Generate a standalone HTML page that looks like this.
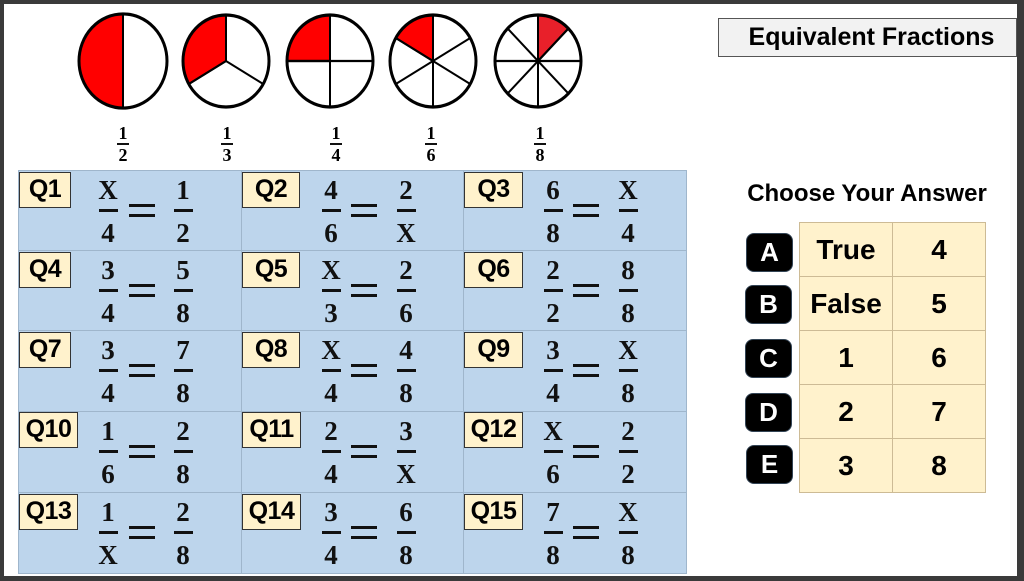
<!DOCTYPE html>
<html><head><meta charset="utf-8"><style>
body{margin:0;width:1024px;height:581px;overflow:hidden;background:#fff;position:relative;font-family:"Liberation Sans",sans-serif}
.a{position:absolute}
.frame{left:0;top:0;width:1024px;height:581px;box-sizing:border-box;border-style:solid;border-color:#3a3a3a;border-width:4px 7px 5px 4px}
.grid{left:18px;top:170px;width:669px;height:404px;background:#bdd5ec;border:1px solid #9fb6cc;box-sizing:border-box}
.hl{height:1px;background:#9fb6cc;left:18px;width:669px}
.vl{width:1px;background:#9fb6cc;top:170px;height:404px}
.q{background:#fff2cc;border:1.5px solid #333;box-sizing:border-box;height:36px;font-weight:bold;font-size:25px;line-height:33px;text-align:center;color:#000;letter-spacing:-0.5px}
.f{font-family:"Liberation Serif",serif;font-weight:bold;font-size:27px;width:30px;text-align:center;line-height:28px;color:#111}
.bar{height:3px;width:19px;background:#111}
.eq{width:26px;height:13px;border-top:3.5px solid #111;border-bottom:3.5px solid #111;box-sizing:border-box}
.sf{font-family:"Liberation Serif",serif;font-weight:bold;font-size:18px;width:20px;text-align:center;line-height:18px}
.sb{height:2px;width:12px;background:#111}
.lt{background:#000;color:#fff;font-weight:bold;font-size:26px;width:45px;height:37px;border-radius:8px;text-align:center;line-height:37px;border:1px solid #345}
td{border:1px solid #cdbb95;width:92px;height:53px;text-align:center;font-weight:bold;font-size:28px;padding:0}
</style></head><body>
<div class="a frame"></div>

<svg class="a" style="left:0;top:0" width="700" height="170">
<g stroke="#000" stroke-width="2">
<g transform="translate(123,61) scale(1,1.07)">
<path d="M0,-44 A44,44 0 0 0 0,44 Z" fill="#ff0000"/>
<line x1="0" y1="-44" x2="0" y2="44"/>
<circle r="44" fill="none" stroke-width="3"/></g>
<g transform="translate(226,61) scale(1,1.07)">
<path d="M0,0 L0,-43 A43,43 0 0 0 -37.2,21.5 Z" fill="#ff0000"/>
<line x1="0" y1="0" x2="0" y2="-43"/><line x1="0" y1="0" x2="37.2" y2="21.5"/><line x1="0" y1="0" x2="-37.2" y2="21.5"/>
<circle r="43" fill="none" stroke-width="3"/></g>
<g transform="translate(330,61) scale(1,1.07)">
<path d="M0,0 L0,-43 A43,43 0 0 0 -43,0 Z" fill="#ff0000"/>
<line x1="0" y1="-43" x2="0" y2="43"/><line x1="-43" y1="0" x2="43" y2="0"/>
<circle r="43" fill="none" stroke-width="3"/></g>
<g transform="translate(433,61) scale(1,1.07)">
<path d="M0,0 L0,-43 A43,43 0 0 0 -37.2,-21.5 Z" fill="#ff0000"/>
<line x1="0" y1="-43" x2="0" y2="43"/><line x1="-37.2" y1="-21.5" x2="37.2" y2="21.5"/><line x1="-37.2" y1="21.5" x2="37.2" y2="-21.5"/>
<circle r="43" fill="none" stroke-width="3"/></g>
<g transform="translate(538,61) scale(1,1.07)">
<path d="M0,0 L0,-43 A43,43 0 0 1 30.4,-30.4 Z" fill="#e8202a"/>
<line x1="0" y1="-43" x2="0" y2="43"/><line x1="-43" y1="0" x2="43" y2="0"/>
<line x1="-30.4" y1="-30.4" x2="30.4" y2="30.4"/><line x1="-30.4" y1="30.4" x2="30.4" y2="-30.4"/>
<circle r="43" fill="none" stroke-width="3"/></g>
</g></svg>

<div class="a sf" style="left:113px;top:124px">1</div><div class="a sb" style="left:117px;top:143px"></div><div class="a sf" style="left:113px;top:146px">2</div>
<div class="a sf" style="left:217px;top:124px">1</div><div class="a sb" style="left:221px;top:143px"></div><div class="a sf" style="left:217px;top:146px">3</div>
<div class="a sf" style="left:326px;top:124px">1</div><div class="a sb" style="left:330px;top:143px"></div><div class="a sf" style="left:326px;top:146px">4</div>
<div class="a sf" style="left:421px;top:124px">1</div><div class="a sb" style="left:425px;top:143px"></div><div class="a sf" style="left:421px;top:146px">6</div>
<div class="a sf" style="left:530px;top:124px">1</div><div class="a sb" style="left:534px;top:143px"></div><div class="a sf" style="left:530px;top:146px">8</div>

<div class="a grid"></div>
<div class="a hl" style="top:250px"></div><div class="a hl" style="top:330px"></div><div class="a hl" style="top:411px"></div><div class="a hl" style="top:492px"></div>
<div class="a vl" style="left:241px"></div><div class="a vl" style="left:463px"></div>

<div class="a q" style="left:19px;top:172px;width:52px">Q1</div>
<div class="a f" style="left:93px;top:176px">X</div><div class="a bar" style="left:99px;top:209px"></div><div class="a f" style="left:93px;top:219px">4</div>
<div class="a eq" style="left:129px;top:204px"></div>
<div class="a f" style="left:168px;top:176px">1</div><div class="a bar" style="left:174px;top:209px"></div><div class="a f" style="left:168px;top:219px">2</div>

<div class="a q" style="left:242px;top:172px;width:58px">Q2</div>
<div class="a f" style="left:316px;top:176px">4</div><div class="a bar" style="left:322px;top:209px"></div><div class="a f" style="left:316px;top:219px">6</div>
<div class="a eq" style="left:351px;top:204px"></div>
<div class="a f" style="left:391px;top:176px">2</div><div class="a bar" style="left:397px;top:209px"></div><div class="a f" style="left:391px;top:219px">X</div>

<div class="a q" style="left:464px;top:172px;width:59px">Q3</div>
<div class="a f" style="left:538px;top:176px">6</div><div class="a bar" style="left:544px;top:209px"></div><div class="a f" style="left:538px;top:219px">8</div>
<div class="a eq" style="left:573px;top:204px"></div>
<div class="a f" style="left:613px;top:176px">X</div><div class="a bar" style="left:619px;top:209px"></div><div class="a f" style="left:613px;top:219px">4</div>

<div class="a q" style="left:19px;top:252px;width:52px">Q4</div>
<div class="a f" style="left:93px;top:256px">3</div><div class="a bar" style="left:99px;top:289px"></div><div class="a f" style="left:93px;top:299px">4</div>
<div class="a eq" style="left:129px;top:284px"></div>
<div class="a f" style="left:168px;top:256px">5</div><div class="a bar" style="left:174px;top:289px"></div><div class="a f" style="left:168px;top:299px">8</div>

<div class="a q" style="left:242px;top:252px;width:58px">Q5</div>
<div class="a f" style="left:316px;top:256px">X</div><div class="a bar" style="left:322px;top:289px"></div><div class="a f" style="left:316px;top:299px">3</div>
<div class="a eq" style="left:351px;top:284px"></div>
<div class="a f" style="left:391px;top:256px">2</div><div class="a bar" style="left:397px;top:289px"></div><div class="a f" style="left:391px;top:299px">6</div>

<div class="a q" style="left:464px;top:252px;width:59px">Q6</div>
<div class="a f" style="left:538px;top:256px">2</div><div class="a bar" style="left:544px;top:289px"></div><div class="a f" style="left:538px;top:299px">2</div>
<div class="a eq" style="left:573px;top:284px"></div>
<div class="a f" style="left:613px;top:256px">8</div><div class="a bar" style="left:619px;top:289px"></div><div class="a f" style="left:613px;top:299px">8</div>

<div class="a q" style="left:19px;top:332px;width:52px">Q7</div>
<div class="a f" style="left:93px;top:336px">3</div><div class="a bar" style="left:99px;top:369px"></div><div class="a f" style="left:93px;top:379px">4</div>
<div class="a eq" style="left:129px;top:364px"></div>
<div class="a f" style="left:168px;top:336px">7</div><div class="a bar" style="left:174px;top:369px"></div><div class="a f" style="left:168px;top:379px">8</div>

<div class="a q" style="left:242px;top:332px;width:58px">Q8</div>
<div class="a f" style="left:316px;top:336px">X</div><div class="a bar" style="left:322px;top:369px"></div><div class="a f" style="left:316px;top:379px">4</div>
<div class="a eq" style="left:351px;top:364px"></div>
<div class="a f" style="left:391px;top:336px">4</div><div class="a bar" style="left:397px;top:369px"></div><div class="a f" style="left:391px;top:379px">8</div>

<div class="a q" style="left:464px;top:332px;width:59px">Q9</div>
<div class="a f" style="left:538px;top:336px">3</div><div class="a bar" style="left:544px;top:369px"></div><div class="a f" style="left:538px;top:379px">4</div>
<div class="a eq" style="left:573px;top:364px"></div>
<div class="a f" style="left:613px;top:336px">X</div><div class="a bar" style="left:619px;top:369px"></div><div class="a f" style="left:613px;top:379px">8</div>

<div class="a q" style="left:19px;top:412px;width:59px">Q10</div>
<div class="a f" style="left:93px;top:417px">1</div><div class="a bar" style="left:99px;top:450px"></div><div class="a f" style="left:93px;top:460px">6</div>
<div class="a eq" style="left:129px;top:445px"></div>
<div class="a f" style="left:168px;top:417px">2</div><div class="a bar" style="left:174px;top:450px"></div><div class="a f" style="left:168px;top:460px">8</div>

<div class="a q" style="left:242px;top:412px;width:59px">Q11</div>
<div class="a f" style="left:316px;top:417px">2</div><div class="a bar" style="left:322px;top:450px"></div><div class="a f" style="left:316px;top:460px">4</div>
<div class="a eq" style="left:351px;top:445px"></div>
<div class="a f" style="left:391px;top:417px">3</div><div class="a bar" style="left:397px;top:450px"></div><div class="a f" style="left:391px;top:460px">X</div>

<div class="a q" style="left:464px;top:412px;width:59px">Q12</div>
<div class="a f" style="left:538px;top:417px">X</div><div class="a bar" style="left:544px;top:450px"></div><div class="a f" style="left:538px;top:460px">6</div>
<div class="a eq" style="left:573px;top:445px"></div>
<div class="a f" style="left:613px;top:417px">2</div><div class="a bar" style="left:619px;top:450px"></div><div class="a f" style="left:613px;top:460px">2</div>

<div class="a q" style="left:19px;top:494px;width:59px">Q13</div>
<div class="a f" style="left:93px;top:498px">1</div><div class="a bar" style="left:99px;top:531px"></div><div class="a f" style="left:93px;top:541px">X</div>
<div class="a eq" style="left:129px;top:526px"></div>
<div class="a f" style="left:168px;top:498px">2</div><div class="a bar" style="left:174px;top:531px"></div><div class="a f" style="left:168px;top:541px">8</div>

<div class="a q" style="left:242px;top:494px;width:59px">Q14</div>
<div class="a f" style="left:316px;top:498px">3</div><div class="a bar" style="left:322px;top:531px"></div><div class="a f" style="left:316px;top:541px">4</div>
<div class="a eq" style="left:351px;top:526px"></div>
<div class="a f" style="left:391px;top:498px">6</div><div class="a bar" style="left:397px;top:531px"></div><div class="a f" style="left:391px;top:541px">8</div>

<div class="a q" style="left:464px;top:494px;width:59px">Q15</div>
<div class="a f" style="left:538px;top:498px">7</div><div class="a bar" style="left:544px;top:531px"></div><div class="a f" style="left:538px;top:541px">8</div>
<div class="a eq" style="left:573px;top:526px"></div>
<div class="a f" style="left:613px;top:498px">X</div><div class="a bar" style="left:619px;top:531px"></div><div class="a f" style="left:613px;top:541px">8</div>

<div class="a" style="left:718px;top:18px;width:299px;height:39px;box-sizing:border-box;background:#f2f2f2;border:1.5px solid #555;font-weight:bold;font-size:25px;line-height:36px;text-align:center;padding-left:8px">Equivalent Fractions</div>
<div class="a" style="left:727px;top:180px;width:280px;text-align:center;font-weight:bold;font-size:24px;line-height:28px">Choose Your Answer</div>

<table class="a" style="left:799px;top:222px;border-collapse:collapse;background:#fff2cc">
<tr><td>True</td><td>4</td></tr>
<tr><td>False</td><td>5</td></tr>
<tr><td>1</td><td>6</td></tr>
<tr><td>2</td><td>7</td></tr>
<tr><td>3</td><td>8</td></tr>
</table>
<div class="a lt" style="left:746px;top:233px">A</div>
<div class="a lt" style="left:745px;top:285px">B</div>
<div class="a lt" style="left:745px;top:339px">C</div>
<div class="a lt" style="left:745px;top:393px">D</div>
<div class="a lt" style="left:746px;top:445px">E</div>
</body></html>
